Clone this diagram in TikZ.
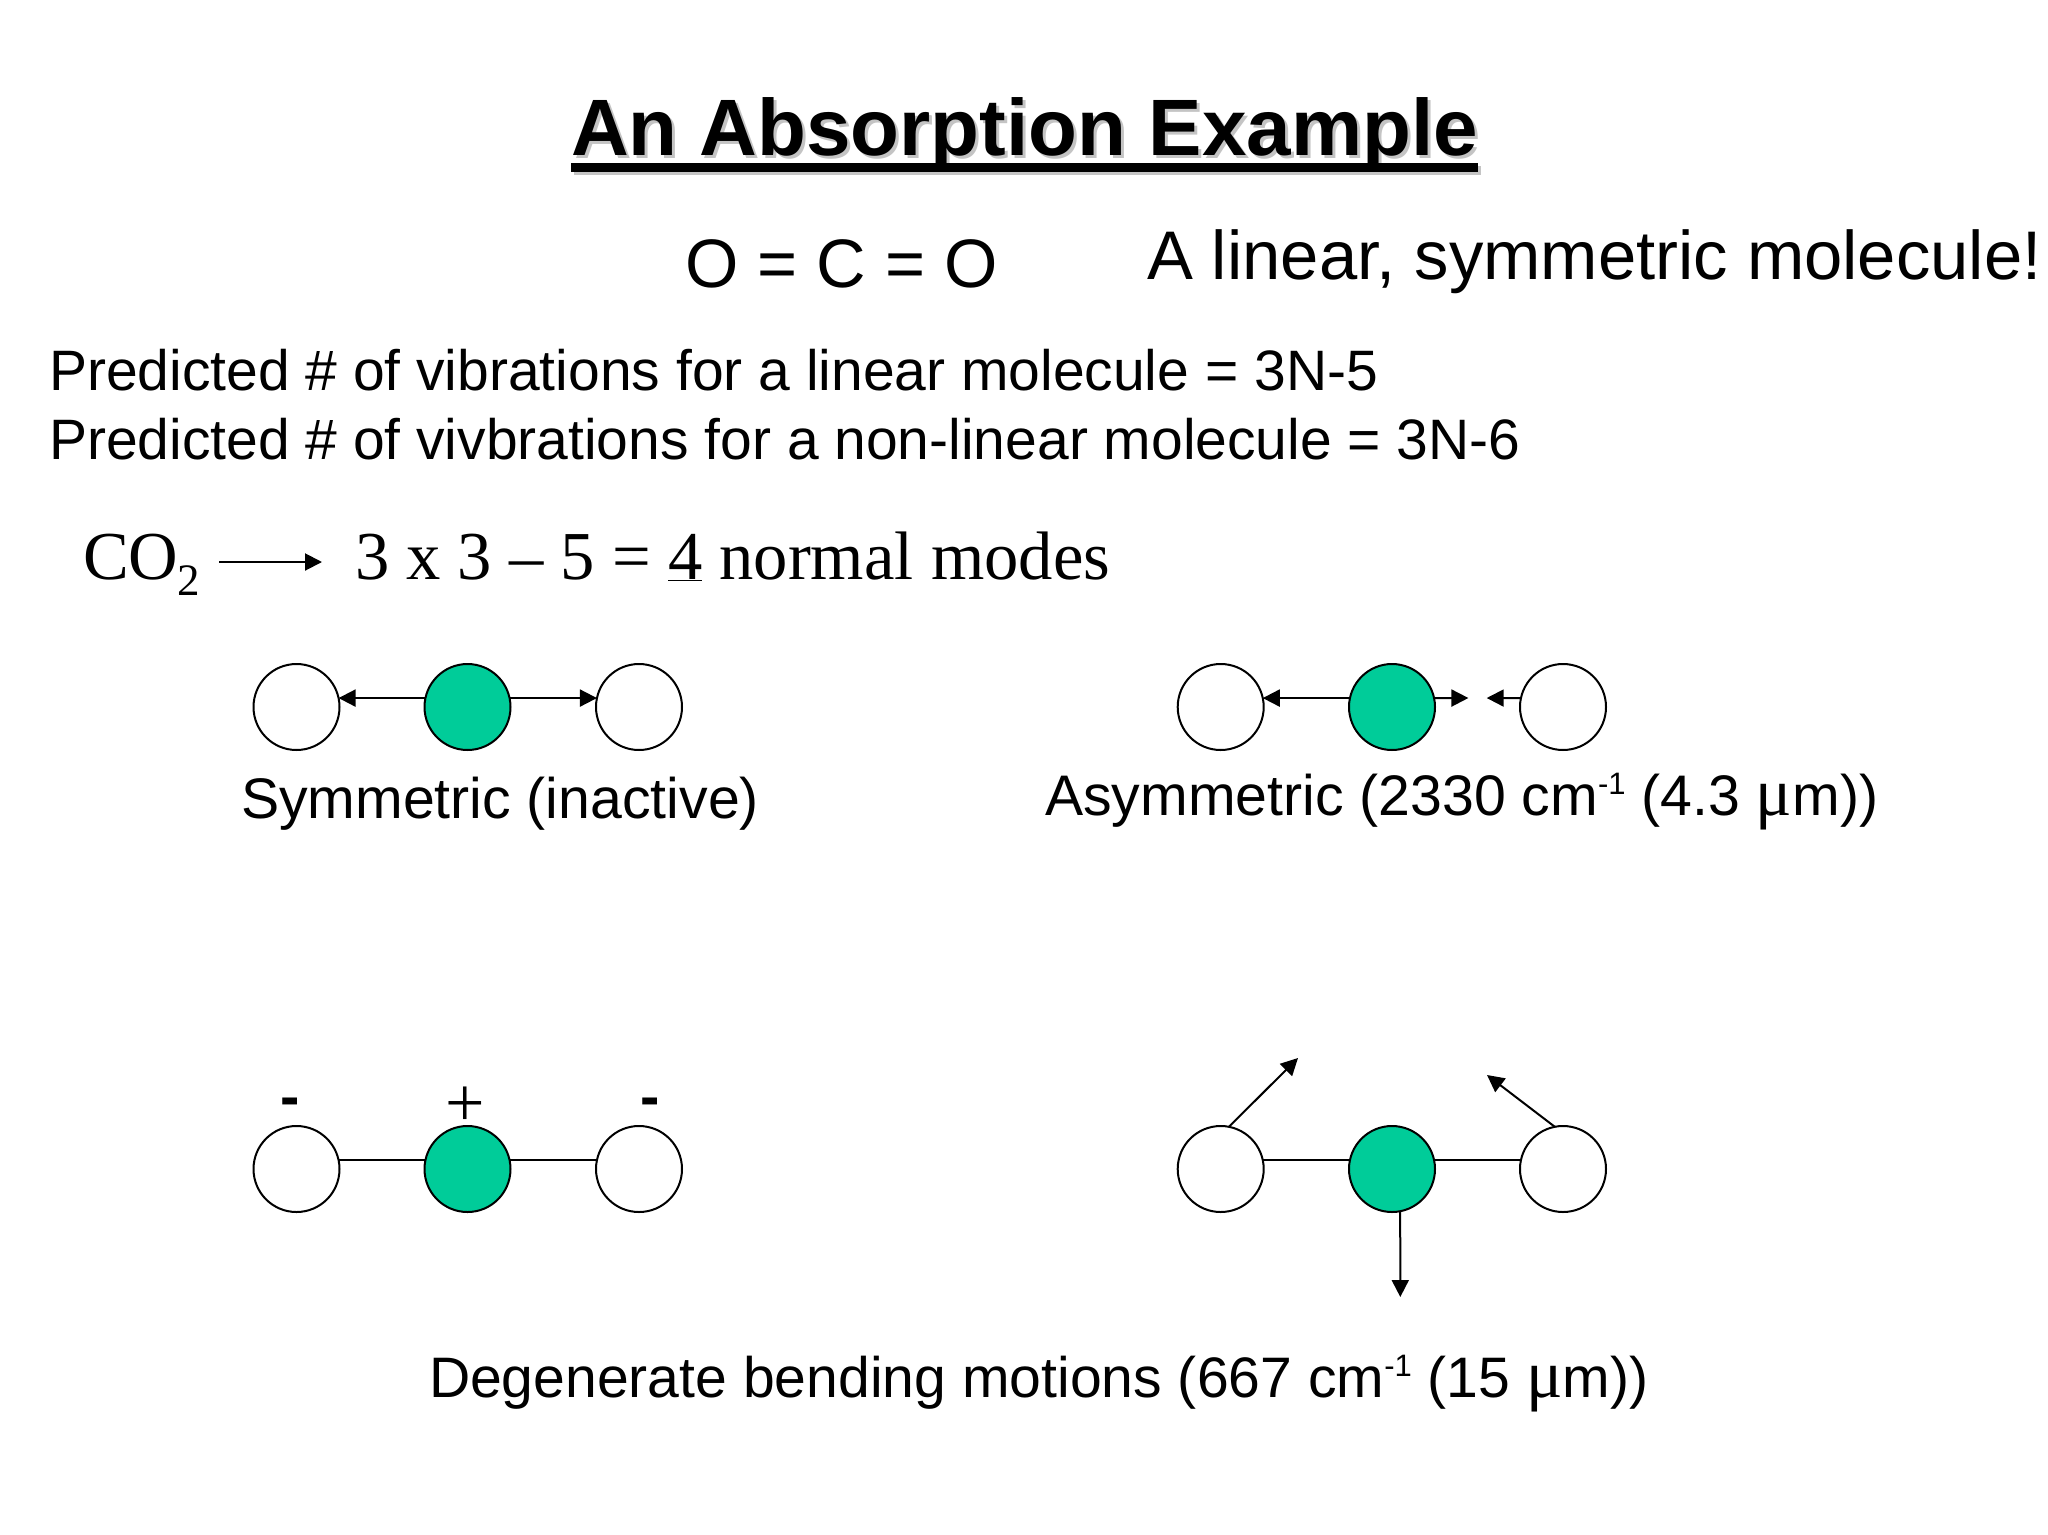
\documentclass[tikz,border=0pt]{standalone}
\usepackage{fontspec}
\setmainfont{Liberation Sans}
\newfontfamily\serifface{Liberation Serif}
\usetikzlibrary{arrows.meta}
\definecolor{atomgreen}{HTML}{00CC99}
\definecolor{shadowgray}{HTML}{C4C4C4}
\newcommand{\fsz}[1]{\fontsize{#1}{#1}\selectfont}
\newcommand{\mumark}{{\serifface\fsz{68}μ}}
\newcommand{\supmark}{\raisebox{21pt}{\fsz{31}-1}}
\tikzset{
  txt/.style={anchor=base west,inner sep=0pt,outer sep=0pt,text=black},
  atom/.style={circle,draw=black,line width=2pt,fill=white,minimum size=86pt,inner sep=0pt,outer sep=0pt},
  catom/.style={atom,fill=atomgreen},
  arr/.style={line width=2pt,-{Triangle[length=17pt,width=17pt]}},
  bond/.style={line width=2pt},
  pt/.style={coordinate}
}
\begin{document}
\begin{tikzpicture}[x=1pt,y=-1pt]
\useasboundingbox[fill=white] (0,0) rectangle (2048,1534);
% title
\node[txt,text=shadowgray,font=\bfseries\fsz{80}] (titleshadow) at (574,158) {An Absorption Example};
\fill[shadowgray] (574,166) rectangle (1481,175);
\node[txt,font=\bfseries\fsz{80}] (title) at (571,155) {An Absorption Example};
\fill[black] (571,163) rectangle (1478,172);
% formula
\node[txt,font=\fsz{68.6}] (formula) at (685,287) {O = C = O};
\node[txt,font=\fsz{68.8}] (linear) at (1147,279) {A linear, symmetric molecule!};
\node[txt,font=\fsz{57}] (pred1) at (49,390) {Predicted \# of vibrations for a linear molecule = 3N-5};
\node[txt,font=\fsz{57}] (pred2) at (49,459) {Predicted \# of vivbrations for a non-linear molecule = 3N-6};
% CO2 line
\node[txt,font=\serifface\fsz{68.6}] (co) at (83,579) {CO};
\node[txt,font=\serifface\fsz{45}] (cosub) at (177,595) {2};
\node[pt] (coarrowend) at (322,562) {};
\node[pt] (coarrowstart) at (219,562) {};
\draw[arr] (coarrowstart) -- (coarrowend);
\node[txt,font=\serifface\fsz{68.6}] (modes) at (355,579) {3 x 3 – 5 = \underline{4} normal modes};
% symmetric
\node[atom] (s1) at (296.5,707) {};
\node[catom] (s2) at (467.5,707) {};
\node[atom] (s3) at (639,707) {};
\draw[arr] (s2.168) -- (s1.12);
\draw[arr] (s2.12) -- (s3.168);
\node[txt,font=\fsz{57.2}] (symlabel) at (241,818) {Symmetric (inactive)};
% asymmetric
\node[atom] (a1) at (1220.7,707) {};
\node[catom] (a2) at (1392,707) {};
\node[atom] (a3) at (1563,707) {};
\node[pt] (a2tip) at (1468.4,698) {};
\node[pt] (a3tip) at (1486.7,698) {};
\draw[arr] (a2.168) -- (a1.12);
\draw[arr] (a2.12) -- (a2tip);
\draw[arr] (a3.168) -- (a3tip);
\node[txt,font=\fsz{57.2}] (asymlabel) at (1045,815) {Asymmetric (2330 cm\supmark{} (4.3 \mumark m))};
% charges
\node[atom] (b1) at (296.5,1169) {};
\node[catom] (b2) at (467.5,1169) {};
\node[atom] (b3) at (639,1169) {};
\draw[bond] (b1.12) -- (b2.168);
\draw[bond] (b2.12) -- (b3.168);
\node[txt,anchor=base,font=\bfseries\fsz{58}] (m1) at (290,1116) {-};
\node[txt,anchor=base,font=\serifface\fsz{70}] (plus) at (465,1126) {+};
\node[txt,anchor=base,font=\bfseries\fsz{58}] (m2) at (650,1116) {-};
% bending
\node[atom] (d1) at (1220.7,1169) {};
\node[catom] (d2) at (1392,1169) {};
\node[atom] (d3) at (1563,1169) {};
\draw[bond] (d1.12) -- (d2.168);
\draw[bond] (d2.12) -- (d3.168);
\node[pt] (d1tip) at (1298,1058) {};
\node[pt] (d3tip) at (1487,1075) {};
\node[pt] (d2tip) at (1400.3,1297) {};
\draw[arr] (d1.79) -- (d1tip);
\draw[arr] (d3.101) -- (d3tip);
\draw[arr] (d2.-79) -- (d2tip);
\node[txt,font=\fsz{57.1}] (deglabel) at (429,1397) {Degenerate bending motions (667 cm\supmark{} (15 \mumark m))};
\end{tikzpicture}
\end{document}
